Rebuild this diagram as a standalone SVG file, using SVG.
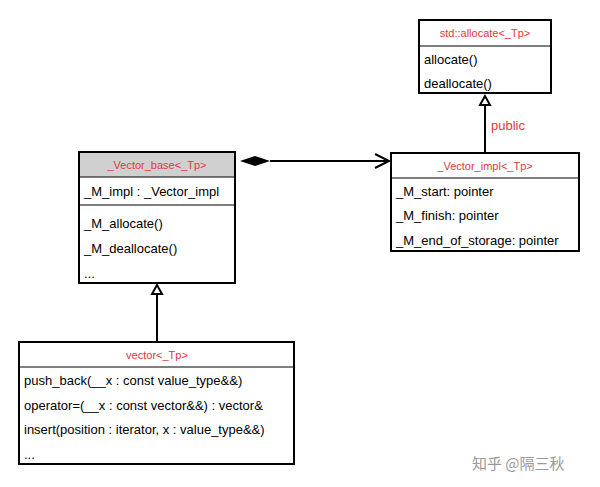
<svg xmlns="http://www.w3.org/2000/svg" width="600" height="487" viewBox="0 0 600 487">
<style>
.b{fill:#fff;stroke:#000;stroke-width:2}
.s{stroke:#000;stroke-width:1.2}
.t{font-family:"Liberation Sans",Arial,sans-serif;font-size:13px;fill:#000}
.h{font-family:"Liberation Sans",Arial,sans-serif;font-size:11px;fill:#e0383e;text-anchor:middle}
.c{fill:none;stroke:#000;stroke-width:2}
</style>
<rect width="600" height="487" fill="#fff"/>
<g id="connectors">
<line class="c" x1="157" y1="341" x2="157" y2="294"/>
<polygon points="157,285 152,294 162,294" fill="#fff" stroke="#000" stroke-width="2"/>
<line class="c" x1="485" y1="152" x2="485" y2="105"/>
<polygon points="485,96 480,105 490,105" fill="#fff" stroke="#000" stroke-width="2"/>
<text x="491" y="130" class="t" style="fill:#e0383e">public</text>
<line class="c" x1="270" y1="161" x2="389" y2="161"/>
<polygon points="240,161 255,156 270,161 255,166" fill="#000"/>
<polyline class="c" points="375,154 389,161 375,168"/>
</g>
<g id="allocate">
<rect class="b" x="419" y="20" width="132" height="73"/>
<line class="s" x1="419" y1="46" x2="551" y2="46"/>
<text class="h" x="485" y="37">std::allocate&lt;_Tp&gt;</text>
<text class="t" x="424" y="64">allocate()</text>
<text class="t" x="424" y="88">deallocate()</text>
</g>
<g id="vector_impl">
<rect class="b" x="391" y="153" width="188" height="98"/>
<line class="s" x1="391" y1="178" x2="579" y2="178"/>
<text class="h" x="485" y="170">_Vector_impl&lt;_Tp&gt;</text>
<text class="t" x="396" y="196">_M_start: pointer</text>
<text class="t" x="396" y="220">_M_finish: pointer</text>
<text class="t" x="396" y="245">_M_end_of_storage: pointer</text>
</g>
<g id="vector_base">
<rect class="b" x="79" y="152" width="156" height="131"/>
<rect x="80" y="153" width="154" height="24" fill="#d0d0d0"/>
<line class="s" x1="79" y1="177" x2="235" y2="177"/>
<line class="s" x1="79" y1="205" x2="235" y2="205"/>
<text class="h" x="157" y="169">_Vector_base&lt;_Tp&gt;</text>
<text class="t" x="84" y="196">_M_impl : _Vector_impl</text>
<text class="t" x="84" y="228">_M_allocate()</text>
<text class="t" x="84" y="253">_M_deallocate()</text>
<text class="t" x="84" y="278">...</text>
</g>
<g id="vector">
<rect class="b" x="19" y="342" width="275" height="122"/>
<line class="s" x1="19" y1="367" x2="294" y2="367"/>
<text class="h" x="157" y="359">vector&lt;_Tp&gt;</text>
<text class="t" x="24" y="385">push_back(__x : const value_type&amp;&amp;)</text>
<text class="t" x="24" y="410">operator=(__x : const vector&amp;&amp;) : vector&amp;</text>
<text class="t" x="24" y="434">insert(position : iterator, x : value_type&amp;&amp;)</text>
<text class="t" x="24" y="459">...</text>
</g>
<text x="472" y="469" style="font-family:'Noto Sans CJK SC',sans-serif;font-size:15px;fill:#9a9a9a">知乎 @隔三秋</text>
</svg>
